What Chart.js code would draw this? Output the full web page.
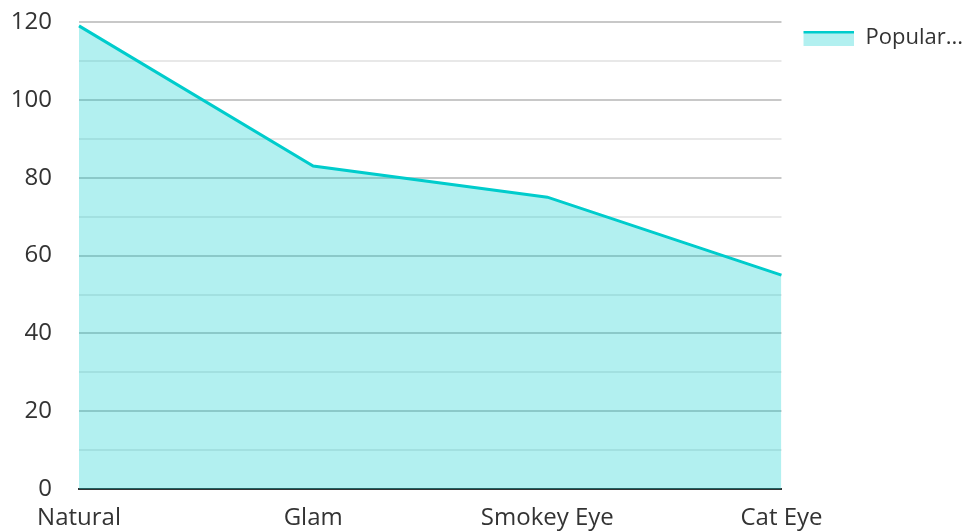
<!DOCTYPE html>
<html>
<head>
<meta charset="utf-8">
<script src="https://cdn.jsdelivr.net/npm/chart.js@4/dist/chart.umd.min.js"></script>
<style>
  html, body { margin: 0; padding: 0; background: #fff; }
  #wrap { width: 973px; height: 531px; }
</style>
</head>
<body>
<div id="wrap"><canvas id="chart"></canvas></div>
<script>
// data
const categories = ["Natural", "Glam", "Smokey Eye", "Cat Eye"];
const popularity = [119, 83, 75, 55];
const seriesName = "Popularity";

const lineColor = "#00cccc";
const fillColor = "rgba(0, 204, 204, 0.3)";

// legend swatch: line on top, fill below (left margin keeps the legend column wide)
const swatch = document.createElement("canvas");
swatch.width = 68;
swatch.height = 15;
const sctx = swatch.getContext("2d");
sctx.fillStyle = fillColor;
sctx.fillRect(17, 3, 51, 12);
sctx.fillStyle = lineColor;
sctx.fillRect(17, 0, 51, 3);

Chart.defaults.font.family = "'Open Sans', 'Noto Sans', sans-serif";
Chart.defaults.color = "#333";

new Chart(document.getElementById("chart").getContext("2d"), {
    type: "line",
    data: {
        labels: categories,
        datasets: [{
            label: seriesName,
            data: popularity,
            borderColor: lineColor,
            backgroundColor: fillColor,
            borderWidth: 3,
            fill: "origin",
            pointRadius: 0,
            tension: 0
        }]
    },
    options: {
        responsive: true,
        maintainAspectRatio: false,
        animation: false,
        layout: { padding: { top: 22, right: 0, left: 0, bottom: -17 } },
        plugins: {
            legend: {
                position: "right",
                align: "start",
                labels: {
                    usePointStyle: true,
                    pointStyleWidth: 68,
                    boxHeight: 15,
                    font: { size: 22 },
                    color: "#333",
                    padding: 5,
                    generateLabels: chart => chart.data.datasets.map((ds, i) => ({
                        text: ds.label.slice(0, 7) + "...",
                        pointStyle: swatch,
                        datasetIndex: i,
                        fontColor: "#333"
                    }))
                }
            },
            tooltip: { enabled: false }
        },
        scales: {
            x: {
                offset: false,
                grid: { display: false, drawTicks: false },
                border: { color: "#333", width: 2 },
                ticks: { font: { size: 24 }, padding: 15, maxRotation: 0, autoSkip: false }
            },
            y: {
                min: 0,
                max: 120,
                afterFit: s => { s.width = 79; s.paddingTop = 0; s.paddingBottom = 0; },
                grid: {
                    drawTicks: false,
                    color: ctx => (ctx.tick && ctx.tick.value % 20 === 0) ? "#c8c8c8" : "#e8e8e8",
                    lineWidth: 2
                },
                border: { display: false },
                ticks: {
                    stepSize: 10,
                    padding: 27,
                    font: { size: 24 },
                    callback: v => (v % 20 === 0 ? v : "")
                }
            }
        }
    }
});
</script>
</body>
</html>
